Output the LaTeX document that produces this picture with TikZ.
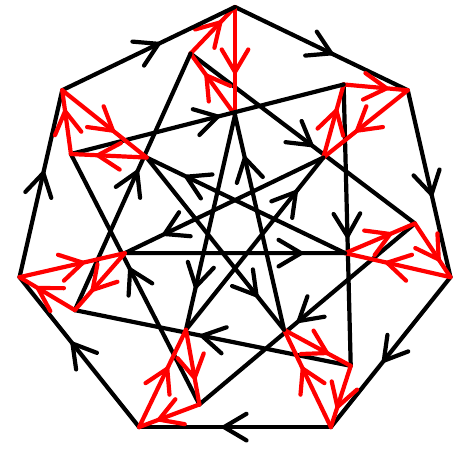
\documentclass[tikz,border=0pt]{standalone}
\usetikzlibrary{decorations.markings}

\begin{document}
\begin{tikzpicture}[x=1pt,y=1pt,line width=4.2pt,line cap=round,line join=round,
	flow/.style={postaction={decorate,decoration={markings,
		mark=at position #1 with {\draw (-11.5,13.3) -- (11,0) -- (-11.5,-13.3);}}}},
	rim/.style={black,flow=0.5},
	chord/.style={black,flow=#1},
	chord/.default=0.5,
	tri/.style={red,flow=0.5}]
	\useasboundingbox (-235,-221) rectangle (239,228);
	% corners, outer and inner points of each red triangle
	\foreach \k in {0,...,6} {
		\coordinate (V\k) at ({90-360*\k/7}:221);
		\coordinate (a\k) at ({104.3-360*\k/7}:180);
		\coordinate (b\k) at ({90-360*\k/7}:113);
	}
	\foreach \k in {0,...,6} {
		\pgfmathtruncatemacro{\nk}{mod(\k+1,7)}
		\pgfmathtruncatemacro{\ak}{mod(\k+2,7)}
		\pgfmathtruncatemacro{\bk}{mod(\k+4,7)}
		\draw[rim] (V\k) -- (V\nk);
		\draw[chord] (a\k) -- (a\ak);
		\draw[chord=0.75] (b\k) -- (b\bk);
		% red triangle
		\draw[tri] (V\k) -- (b\k);
		\draw[tri] (b\k) -- (a\k);
		\draw[tri] (a\k) -- (V\k);
	}
\end{tikzpicture}
\end{document}
